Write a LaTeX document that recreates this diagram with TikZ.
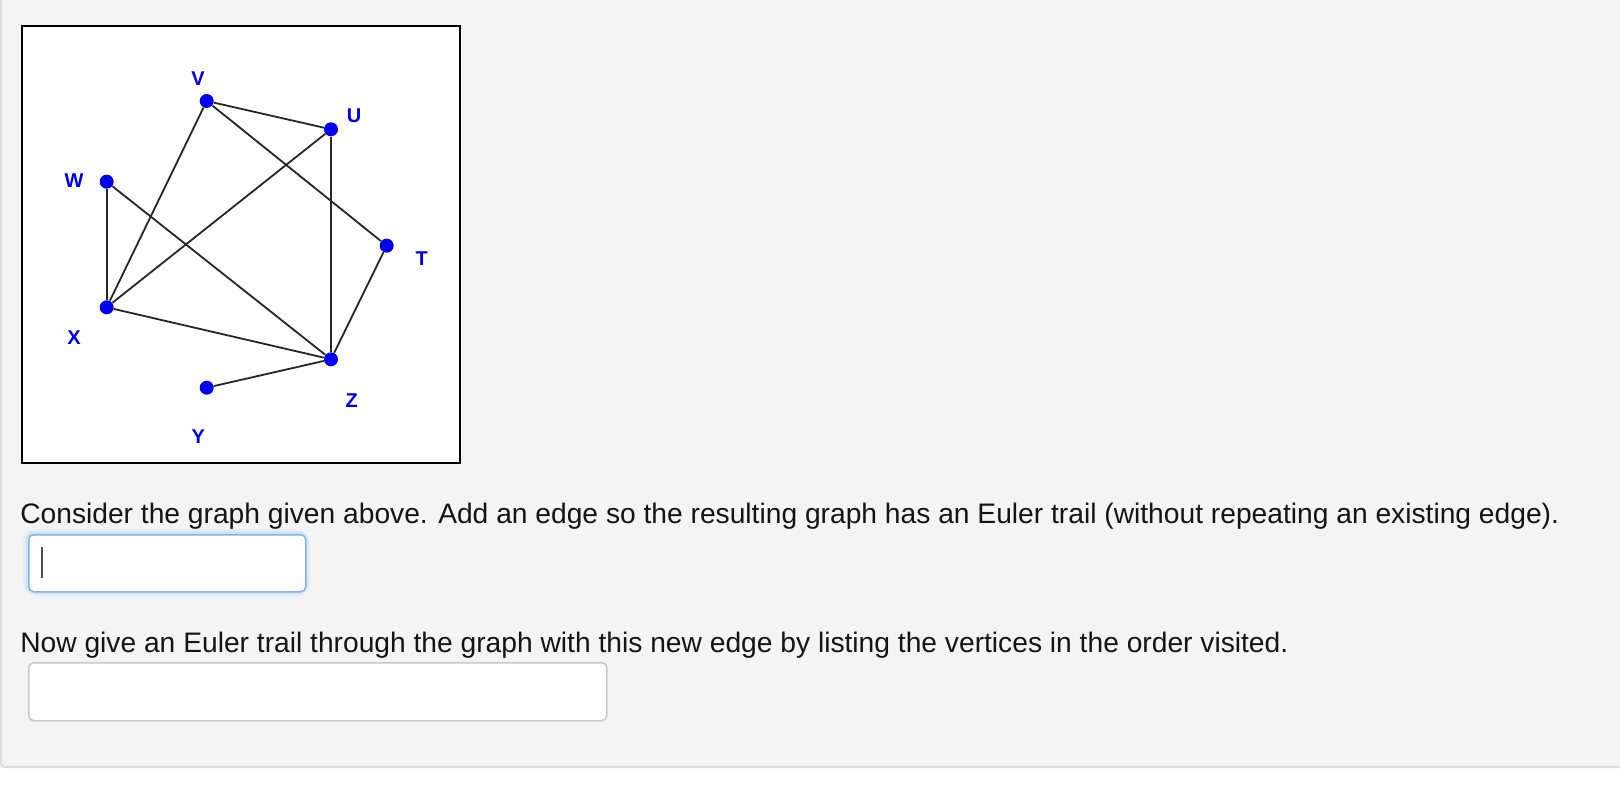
\documentclass[tikz,border=0pt]{standalone}
\usepackage{fontspec}
\setmainfont{Liberation Sans}
\usepackage{tikz}
\usetikzlibrary{arrows,shapes}
\definecolor{dotblue}{RGB}{0,0,238}
\definecolor{panelgray}{RGB}{244,244,244}
\definecolor{panelline}{RGB}{222,222,222}
\definecolor{focusblue}{RGB}{128,180,238}
\definecolor{fieldline}{RGB}{200,200,200}

\begin{document}
\begin{tikzpicture}[x=1pt,y=-1pt,semithick]
 \tikzstyle{vertex}=[circle,fill=dotblue,inner sep=0pt,minimum size=14pt]
 \tikzstyle{vlabel}=[text=dotblue,font=\fontsize{20}{20}\selectfont\bfseries,inner sep=0pt]
 \tikzstyle{edge}=[black!85,line width=1.8pt]
 \tikzstyle{question}=[anchor=base west,inner sep=0pt,font=\fontsize{28.2}{33}\selectfont,text=black!92]
 \tikzstyle{field}=[draw,rounded corners=5pt,fill=white,line width=1.5pt,anchor=north west,inner sep=0pt]

 \useasboundingbox (0,0) rectangle (1620,790);
 \fill[white] (0,0) rectangle (1620,790);
 \fill[panelgray] (0,0) rectangle (1620,768);
 \draw[panelline,line width=2pt,rounded corners=4pt] (1,-2) -- (1,767) -- (1622,767);

 % graph picture
 \draw[line width=2pt,fill=white] (21.5,26.3) rectangle (460,463);

   \node[vertex] (V) at (206.7,101) {};
   \node[vertex] (U) at (331,129.3) {};
   \node[vertex] (W) at (106.7,181.7) {};
   \node[vertex] (T) at (386.7,245.7) {};
   \node[vertex] (X) at (106.7,307.3) {};
   \node[vertex] (Z) at (331,359.3) {};
   \node[vertex] (Y) at (206.7,387.7) {};

   \node[vlabel] (lV) at (198,79) {V};
   \node[vlabel] (lU) at (354,115.7) {U};
   \node[vlabel] (lW) at (74,181) {W};
   \node[vlabel] (lT) at (421.7,259) {T};
   \node[vlabel] (lX) at (74,337.7) {X};
   \node[vlabel] (lZ) at (351.7,401) {Z};
   \node[vlabel] (lY) at (198.3,436.7) {Y};

     \path[edge]
    (V) edge (U)
    (V) edge (T)
    (V) edge (X)
    (U) edge (X)
    (U) edge (Z)
    (W) edge (X)
    (W) edge (Z)
    (X) edge (Z)
    (T) edge (Z)
    (Y) edge (Z);

 % questions and answer fields
   \node[question] (q1) at (20,523) {Consider the graph given above. Add an edge so the resulting graph has an Euler trail (without repeating an existing edge).};
   \draw[focusblue,opacity=0.12,line width=10pt,rounded corners=9pt] (28,534) rectangle (305,591);
   \draw[focusblue,opacity=0.18,line width=5pt,rounded corners=7pt] (28,534) rectangle (305,591);
   \node[field,draw=focusblue,minimum width=277pt,minimum height=57pt] (f1) at (28,534) {};
   \draw[black!70,line width=1.5pt] (42,547) -- (42,578);

   \node[question] (q2) at (20,652) {Now give an Euler trail through the graph with this new edge by listing the vertices in the order visited.};
   \node[field,draw=fieldline,minimum width=578pt,minimum height=58pt] (f2) at (28,662) {};
\end{tikzpicture}
\end{document}
